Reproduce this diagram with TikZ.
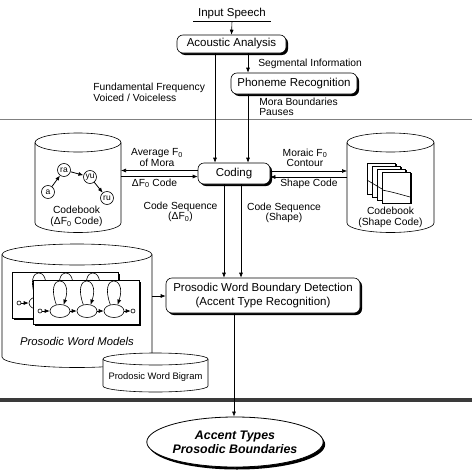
\documentclass[tikz,border=0pt]{standalone}
\usepackage{fontspec}
\setmainfont{Liberation Sans}
\usetikzlibrary{arrows.meta,shapes.geometric,shadows}

\tikzset{
  proc/.style={draw, semithick, rounded corners=6pt, fill=white, align=center,
    inner sep=1pt, font=\fontsize{11.5}{14}\selectfont,
    drop shadow={shadow xshift=2pt, shadow yshift=-2pt, opacity=1, fill=black}},
  lbl/.style={align=center, inner sep=0pt, font=\fontsize{10.3}{10.6}\selectfont},
  mora/.style={draw, circle, fill=white, inner sep=0pt, minimum size=13pt, font=\fontsize{8.5}{9}\selectfont},
  hstate/.style={draw, ellipse, fill=white, inner sep=0pt, minimum width=20pt, minimum height=13pt},
  hend/.style={draw, circle, fill=white, inner sep=0pt, minimum size=4pt},
  mbox/.style={draw, fill=white, drop shadow={shadow xshift=2pt, shadow yshift=-2pt, opacity=1, fill=black}},
  page/.style={draw, fill=white, drop shadow={shadow xshift=1.5pt, shadow yshift=-1pt, opacity=1, fill=black}},
}

\begin{document}
\begin{tikzpicture}[x=1pt, y=1pt, semithick, >={Latex[length=5pt, width=4pt]}]
    \definecolor{barC}{HTML}{3a3a3a}
    \useasboundingbox (0,0) rectangle (474,-474);

    % frame
    \draw[gray, thick] (0,-119) -- (472,-119);
    \draw[barC, line width=4pt] (0,-400) -- (472,-400);

    % main chain
    \node[inner sep=1.5pt, minimum width=77pt, font=\fontsize{11.5}{13}\selectfont] (speech) at (232,-14) {Input Speech};
    \draw (speech.south west) -- (speech.south east);
    \node[proc, minimum width=109pt, minimum height=18pt] (aa) at (231.5,-44) {Acoustic Analysis};
    \node[proc, minimum width=126pt, minimum height=21pt] (pr) at (294,-83.5) {Phoneme Recognition};
    \node[proc, minimum width=72pt, minimum height=21pt] (coding) at (234,-173.5) {Coding};
    \node[proc, minimum width=194pt, minimum height=35pt] (pwbd) at (263,-295.5) {Prosodic Word Boundary Detection\\(Accent Type Recognition)};
    \node[ellipse, draw, thick, fill=white, minimum width=144pt, minimum height=50pt, inner sep=0pt, align=center,
        font=\bfseries\itshape\fontsize{12.4}{14}\selectfont,
        drop shadow={shadow xshift=2pt, shadow yshift=-2.5pt, opacity=1, fill=black}] (out) at (235,-442) {Accent Types\\Prosodic Boundaries};

    \draw[->] (speech.south) -- (aa.north);
    \draw[->] ([xshift=16.5pt]aa.south) -- ([xshift=16.5pt]aa.south |- pr.north);
    \draw[->] ([xshift=-16.5pt]aa.south) -- ([xshift=-19pt]coding.north);
    \draw[->] ([xshift=-46pt]pr.south) -- ([xshift=14pt]coding.north);
    \draw[->] ([xshift=-10pt]coding.south) -- ([xshift=-10pt]coding.south |- pwbd.north);
    \draw[->] ([xshift=7pt]coding.south) -- ([xshift=7pt]coding.south |- pwbd.north);
    \draw[->] ([xshift=-29pt]pwbd.south) -- ([xshift=-29pt]pwbd.south |- out.north);

    \node[lbl, anchor=west] (segl) at (258,-64) {Segmental Information};
    \node[lbl, anchor=west, align=left] (f0l) at (93,-92.5) {Fundamental Frequency\\Voiced / Voiceless};
    \node[lbl, anchor=west, align=left] (moral) at (259,-107) {Mora Boundaries\\Pauses};

    % left codebook
    \draw[fill=white] (35,-142.5) -- (35,-223) arc[start angle=180, end angle=360, x radius=43, y radius=9.5] -- (121,-142.5);
    \draw (78,-142.5) ellipse [x radius=43, y radius=9.5];
    \node[lbl] (cbdl) at (76.5,-216.5) {Codebook\\(ΔF\textsubscript{0} Code)};
    \coordinate (cbl) at (121,-173);
    \node[mora] (a) at (48,-192) {a};
    \node[mora] (ra) at (64,-170) {ra};
    \node[mora] (yu) at (90,-177) {yu};
    \node[mora] (ru) at (107,-198) {ru};
    \draw[->, thick] (a) -- (ra);
    \draw[->, thick] (ra) -- (yu);
    \draw[->, thick] (yu) -- (ru);

    \draw[->] ([yshift=3pt]coding.west) -- ([yshift=3pt]coding.west -| cbl);
    \draw[->] ([yshift=-3pt]coding.west -| cbl) -- ([yshift=-3pt]coding.west);
    \node[lbl] (avgl) at (157,-157.5) {Average F\textsubscript{0}\\of Mora};
    \node[lbl] (dfl) at (154.5,-183.5) {ΔF\textsubscript{0} Code};
    \node[lbl] (csl) at (180.5,-212) {Code Sequence\\(ΔF\textsubscript{0})};

    % right codebook
    \draw[fill=white] (347,-142.5) -- (347,-223) arc[start angle=180, end angle=360, x radius=43.5, y radius=9.5] -- (434,-142.5);
    \draw (390.5,-142.5) ellipse [x radius=43.5, y radius=9.5];
    \node[lbl] (cbdr) at (390.5,-217.5) {Codebook\\(Shape Code)};
    \coordinate (cbr) at (347,-173);
    \draw[page] (367,-163) rectangle ++(28,-31);
    \draw (367,-180) .. controls (375,-185) .. (395,-188);
    \draw[page] (372,-166) rectangle ++(28,-31);
    \draw (372,-183) .. controls (380,-188) .. (400,-191);
    \draw[page] (377,-169) rectangle ++(28,-31);
    \draw (377,-186) .. controls (385,-191) .. (405,-194);
    \draw[page] (382,-172) rectangle ++(28,-31);
    \draw (382,-190) .. controls (392,-192) .. (410,-197);

    \draw[->] ([yshift=2.5pt]coding.east) -- ([yshift=2.5pt]coding.east -| cbr);
    \draw[->] ([yshift=-3.5pt]coding.east -| cbr) -- ([yshift=-3.5pt]coding.east);
    \node[lbl] (mcl) at (305,-158) {Moraic F\textsubscript{0}\\Contour};
    \node[lbl] (scl) at (309,-184) {Shape Code};
    \node[lbl] (csr) at (284,-213) {Code Sequence\\(Shape)};

    % prosodic word models
    \draw (2,-254.5) -- (2,-357) arc[start angle=180, end angle=360, x radius=75, y radius=10.5] -- (152,-254.5);
    \draw (77,-254.5) ellipse [x radius=75, y radius=10.5];
    \coordinate (pwm) at (152,-296);
    \draw[->] (pwm) -- (pwm -| pwbd.west);

    \draw[mbox] (12,-272) rectangle (118,-318);
    \node[hend] (b0) at (19,-303) {};
    \node[hstate] (b1) at (39,-303) {};
    \node[hstate] (b2) at (66,-303) {};
    \node[hstate] (b3) at (93,-303) {};
    \draw[->] (b0) -- (b1);
    \draw[->] (b1.120) .. controls +(-12,32) and +(10,30) .. (b1.60);
    \draw[->] (b2.120) .. controls +(-12,32) and +(10,30) .. (b2.60);
    \draw[->] (b3.120) .. controls +(-12,32) and +(10,30) .. (b3.60);

    \draw[mbox] (33,-280) rectangle (139,-324);
    \node[hend] (m0) at (40,-311) {};
    \node[hstate] (m1) at (60,-311) {};
    \node[hstate] (m2) at (87,-311) {};
    \node[hstate] (m3) at (114,-311) {};
    \node[hend] (m4) at (133,-311) {};
    \draw[->] (m0) -- (m1);
    \draw[->] (m1) -- (m2);
    \draw[->] (m2) -- (m3);
    \draw[->] (m3) -- (m4);
    \draw[->] (m1.120) .. controls +(-12,32) and +(10,30) .. (m1.60);
    \draw[->] (m2.120) .. controls +(-12,32) and +(10,30) .. (m2.60);
    \draw[->] (m3.120) .. controls +(-12,32) and +(10,30) .. (m3.60);
    \node[font=\itshape\fontsize{11.3}{13}\selectfont] (pwml) at (77,-341) {Prosodic Word Models};

    % bigram
    \draw[fill=white] (103,-359) -- (103,-386) arc[start angle=180, end angle=360, x radius=52.5, y radius=6] -- (208,-359);
    \draw[fill=white] (155.5,-359) ellipse [x radius=52.5, y radius=6];
    \node[font=\fontsize{9.4}{11}\selectfont] (bgl) at (155.5,-377) {Prodosic Word Bigram};

\end{tikzpicture}
\end{document}
